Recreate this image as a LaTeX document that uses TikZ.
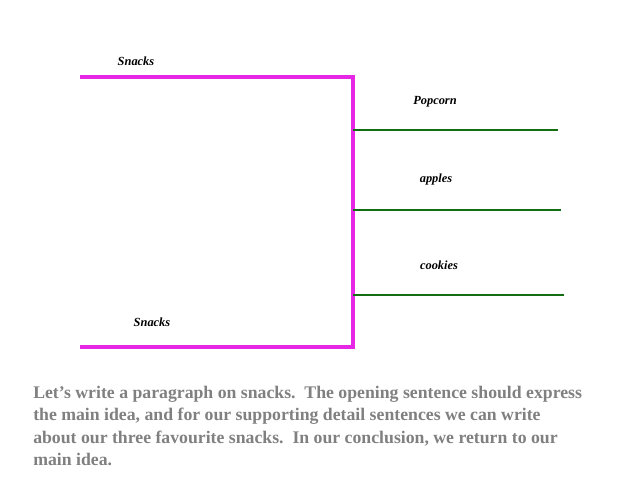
\documentclass[tikz,border=0pt]{standalone}
\usepackage{fontspec}
\setmainfont{Liberation Serif}
\begin{document}
\begin{tikzpicture}[x=0.75pt,y=-0.75pt,
  mag/.style={draw={rgb,255:red,230;green,40;blue,230},line width=2.6pt},
  grn/.style={draw={rgb,255:red,20;green,110;blue,20},line width=1.8pt},
  lab/.style={font=\fontsize{9.3}{11}\selectfont\bfseries\itshape},
  para/.style={font=\fontsize{13.3}{16.7}\selectfont\bfseries,text={rgb,255:red,128;green,128;blue,128},align=left,anchor=north west,inner sep=0pt}]
\useasboundingbox (0,0) rectangle (638,478);
\coordinate (tl) at (80,77);
\coordinate (tr) at (353,77);
\coordinate (br) at (353,347);
\coordinate (bl) at (80,347);
\draw[mag] (tl) -- (tr) -- (br) -- (bl);
\coordinate (g1a) at (353,130); \coordinate (g1b) at (558,130);
\coordinate (g2a) at (353,210); \coordinate (g2b) at (561,210);
\coordinate (g3a) at (353,295); \coordinate (g3b) at (564,295);
\draw[grn] (g1a) -- (g1b);
\draw[grn] (g2a) -- (g2b);
\draw[grn] (g3a) -- (g3b);
\node[lab] (s1) at (136,61) {Snacks};
\node[lab] (p) at (435,102) {Popcorn};
\node[lab] (a) at (436,180) {apples};
\node[lab] (c) at (439,265) {cookies};
\node[lab] (s2) at (152,322) {Snacks};
\node[para] (t) at (33,386) {Let’s write a paragraph on snacks.\ \ The opening sentence should express\\
the main idea, and for our supporting detail sentences we can write\\
about our three favourite snacks.\ \ In our conclusion, we return to our\\
main idea.};
\end{tikzpicture}
\end{document}
